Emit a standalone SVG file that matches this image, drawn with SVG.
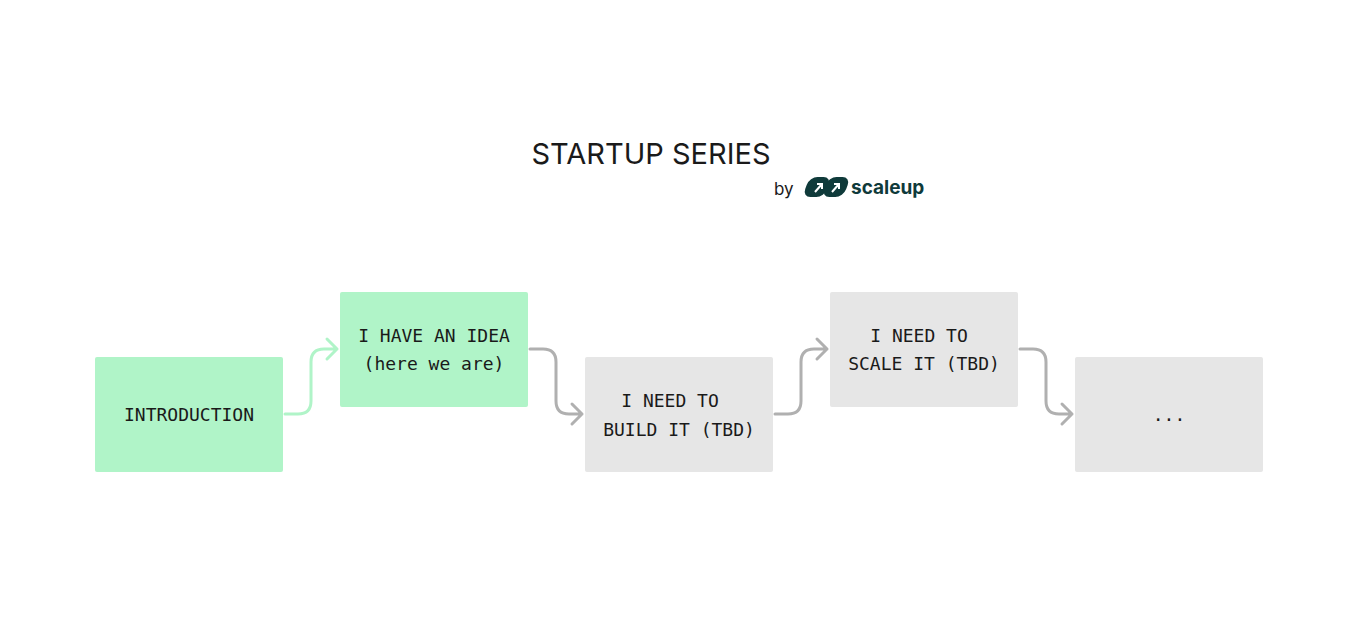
<svg xmlns="http://www.w3.org/2000/svg" width="1358" height="637" viewBox="0 0 1358 637">
<style>
.box{stroke:none}
.g{fill:#b0f4c8}
.n{fill:#e6e6e6}
.t{font-family:"DejaVu Sans Mono","Liberation Mono",monospace;font-size:18px;fill:#1a1a1a;text-anchor:middle}
.c{fill:none;stroke-width:3;stroke-linecap:round;stroke-linejoin:round}
.cg{stroke:#b0f4c8}
.cn{stroke:#b0b0b0}
</style>
<rect width="1358" height="637" fill="#fff"/>
<g id="title">
<text x="651" y="164" font-family="Inter,'Liberation Sans',sans-serif" font-size="29" fill="#1a1a1a" text-anchor="middle">STARTUP SERIES</text>
<text x="774" y="195" font-family="Inter,'Liberation Sans',sans-serif" font-size="17" fill="#1a1a1a">by</text>
<g fill="#0f3a3a">
<rect x="806" y="177" width="22" height="20" rx="8" transform="skewX(-20) translate(68 0)"/>
<rect x="825" y="177" width="22" height="20" rx="8" transform="skewX(-20) translate(68 0)"/>
</g>
<path d="M815 192 l7-8 m-5 0 h5 v5 M832 192 l7-8 m-5 0 h5 v5" stroke="#fff" stroke-width="2" fill="none"/>
<text x="851" y="194" font-family="Inter,'Liberation Sans',sans-serif" font-size="19" font-weight="bold" fill="#0f3a3a">scaleup</text>
</g>
<g id="connectors">
<path class="c cg" d="M285 414 H298 Q311 414 311 401 V362 Q311 349 324 349 H337 M327 339 L337 349 L327 359"/>
<path class="c cn" d="M530 349 H543 Q556 349 556 362 V401 Q556 414 569 414 H582 M572 404 L582 414 L572 424"/>
<path class="c cn" d="M775 414 H788 Q801 414 801 401 V362 Q801 349 814 349 H827 M817 339 L827 349 L817 359"/>
<path class="c cn" d="M1020 349 H1033 Q1046 349 1046 362 V401 Q1046 414 1059 414 H1072 M1062 404 L1072 414 L1062 424"/>
</g>
<g id="intro"><rect class="box g" x="95" y="357" width="188" height="115" rx="2"/><text class="t" x="189" y="421">INTRODUCTION</text></g>
<g id="idea"><rect class="box g" x="340" y="292" width="188" height="115" rx="2"/><text class="t" x="434" y="342">I HAVE AN IDEA</text><text class="t" x="434" y="370">(here we are)</text></g>
<g id="build"><rect class="box n" x="585" y="357" width="188" height="115" rx="2"/><text class="t" x="670" y="407">I NEED TO</text><text class="t" x="679" y="436">BUILD IT (TBD)</text></g>
<g id="scale"><rect class="box n" x="830" y="292" width="188" height="115" rx="2"/><text class="t" x="919" y="342">I NEED TO</text><text class="t" x="924" y="370">SCALE IT (TBD)</text></g>
<g id="more"><rect class="box n" x="1075" y="357" width="188" height="115" rx="2"/><text class="t" x="1169" y="421">...</text></g>
</svg>
